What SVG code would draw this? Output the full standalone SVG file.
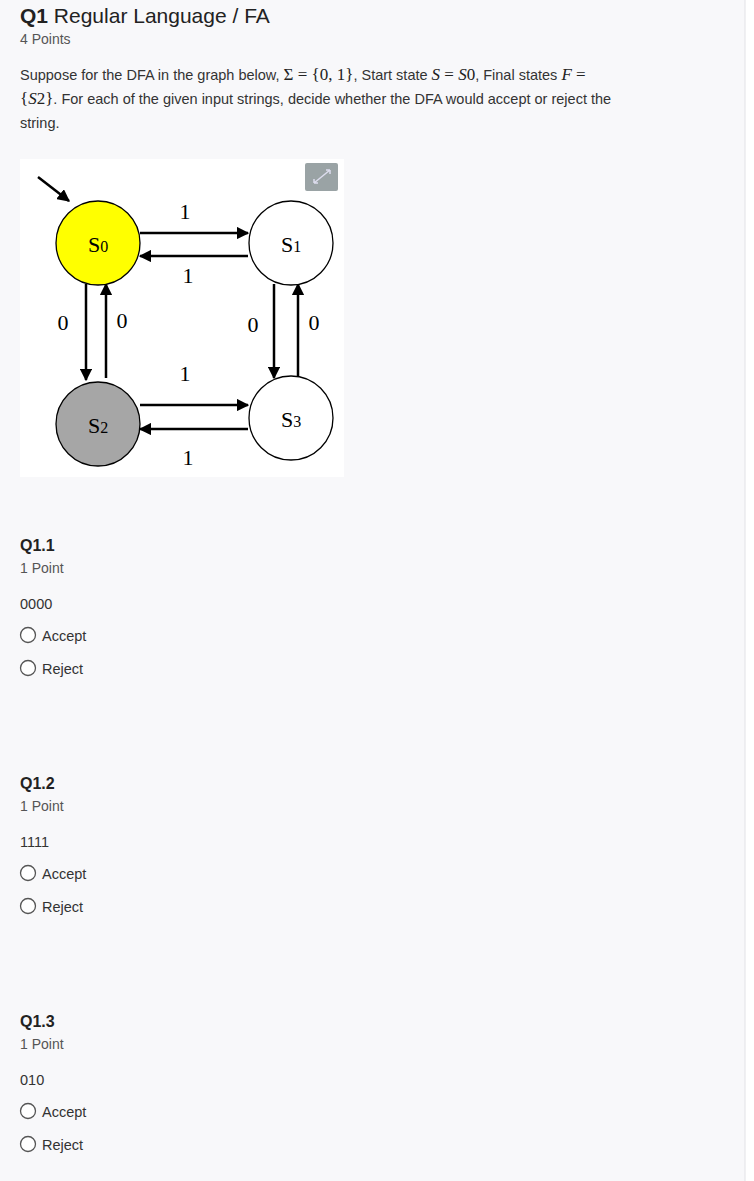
<svg xmlns="http://www.w3.org/2000/svg" width="754" height="1181" viewBox="0 0 754 1181">
<defs>
<style>
.t{font-family:"Liberation Sans",Arial,sans-serif;fill:#333}
.h{font-size:21px;fill:#222}
.s{font-size:14px;fill:#555}
.b{font-size:14.5px}
.q{font-size:16px;font-weight:bold;fill:#222}
.m{font-family:"Liberation Serif","DejaVu Serif",serif;font-size:22px;fill:#000}
.st{stroke:#000;stroke-width:1.3}
.e{stroke:#000;stroke-width:2.5;fill:none;marker-end:url(#a)}
.r{fill:#fff;stroke:#555;stroke-width:1.3}
.mi{font-family:"Liberation Serif",serif;font-style:italic;font-size:17px;fill:#222}
.mr{font-family:"Liberation Serif",serif;font-size:17px;fill:#222}
</style>
<marker id="a" viewBox="0 0 10 10" refX="9" refY="5" markerWidth="5" markerHeight="5" orient="auto" markerUnits="strokeWidth"><path d="M0 0L10 5L0 10z" fill="#000"/></marker>
</defs>
<rect width="754" height="1181" fill="#f8f8fa"/>
<rect x="745" y="0" width="9" height="1181" fill="#fff"/>
<line x1="745" y1="0" x2="745" y2="1181" stroke="#e2e2e6"/>
<text class="t h" x="20" y="23"><tspan font-weight="bold">Q1</tspan> Regular Language / FA</text>
<text class="t s" x="20" y="44">4 Points</text>
<text class="t b" x="20" y="80">Suppose for the DFA in the graph below, <tspan class="mr">Σ = {0, 1}</tspan>, Start state <tspan class="mi">S</tspan><tspan class="mr"> = </tspan><tspan class="mi">S</tspan><tspan class="mr" font-size="12">0</tspan>, Final states <tspan class="mi">F</tspan><tspan class="mr"> =</tspan></text>
<text class="t b" x="20" y="104"><tspan class="mr">{</tspan><tspan class="mi">S</tspan><tspan class="mr" font-size="12">2</tspan><tspan class="mr">}</tspan>.  For each of the given input strings, decide whether the DFA would accept or reject the</text>
<text class="t b" x="20" y="128">string.</text>
<rect x="20" y="159" width="324" height="318" fill="#fff"/>
<g id="expand"><rect x="305" y="163" width="33" height="28" rx="2" fill="#9aa3a5"/><path d="M314 183L330 170M314 183v-4M314 183h4M330 170h-4M330 170v4" stroke="#dde" stroke-width="1.5" fill="none"/></g>
<g id="connectors">
<line class="e" x1="38" y1="177" x2="69" y2="201"/>
<line class="e" x1="140" y1="233" x2="248" y2="233"/>
<line class="e" x1="248" y1="256" x2="140" y2="256"/>
<line class="e" x1="140" y1="405" x2="248" y2="405"/>
<line class="e" x1="248" y1="429" x2="140" y2="429"/>
<line class="e" x1="86" y1="284" x2="86" y2="380"/>
<line class="e" x1="106" y1="378" x2="106" y2="284"/>
<line class="e" x1="274" y1="284" x2="274" y2="378"/>
<line class="e" x1="298" y1="376" x2="298" y2="284"/>
<text class="m" x="185" y="219" text-anchor="middle">1</text>
<text class="m" x="188" y="283" text-anchor="middle">1</text>
<text class="m" x="185" y="381" text-anchor="middle">1</text>
<text class="m" x="188" y="465" text-anchor="middle">1</text>
<text class="m" x="63" y="330" text-anchor="middle">0</text>
<text class="m" x="122" y="328" text-anchor="middle">0</text>
<text class="m" x="253" y="332" text-anchor="middle">0</text>
<text class="m" x="314" y="330" text-anchor="middle">0</text>
</g>
<g id="S0"><circle class="st" cx="98" cy="243" r="42" fill="#ffff00"/><text class="m" x="98" y="252" text-anchor="middle">S<tspan font-size="16">0</tspan></text></g>
<g id="S1"><circle class="st" cx="291" cy="243" r="42" fill="#fff"/><text class="m" x="291" y="252" text-anchor="middle">S<tspan font-size="16">1</tspan></text></g>
<g id="S2"><circle class="st" cx="98" cy="424" r="42" fill="#a6a6a6"/><text class="m" x="98" y="433" text-anchor="middle">S<tspan font-size="16">2</tspan></text></g>
<g id="S3"><circle class="st" cx="291" cy="418" r="42" fill="#fff"/><text class="m" x="291" y="427" text-anchor="middle">S<tspan font-size="16">3</tspan></text></g>
<g id="q11">
<text class="t q" x="20" y="551">Q1.1</text><text class="t s" x="20" y="573">1 Point</text>
<text class="t b" x="20" y="609">0000</text>
<circle class="r" cx="28" cy="635" r="7.5"/><text class="t b" x="42" y="641">Accept</text>
<circle class="r" cx="28" cy="668" r="7.5"/><text class="t b" x="42" y="674">Reject</text>
</g>
<g id="q12">
<text class="t q" x="20" y="789">Q1.2</text><text class="t s" x="20" y="811">1 Point</text>
<text class="t b" x="20" y="847">1111</text>
<circle class="r" cx="28" cy="873" r="7.5"/><text class="t b" x="42" y="879">Accept</text>
<circle class="r" cx="28" cy="906" r="7.5"/><text class="t b" x="42" y="912">Reject</text>
</g>
<g id="q13">
<text class="t q" x="20" y="1027">Q1.3</text><text class="t s" x="20" y="1049">1 Point</text>
<text class="t b" x="20" y="1085">010</text>
<circle class="r" cx="28" cy="1111" r="7.5"/><text class="t b" x="42" y="1117">Accept</text>
<circle class="r" cx="28" cy="1144" r="7.5"/><text class="t b" x="42" y="1150">Reject</text>
</g>
</svg>
